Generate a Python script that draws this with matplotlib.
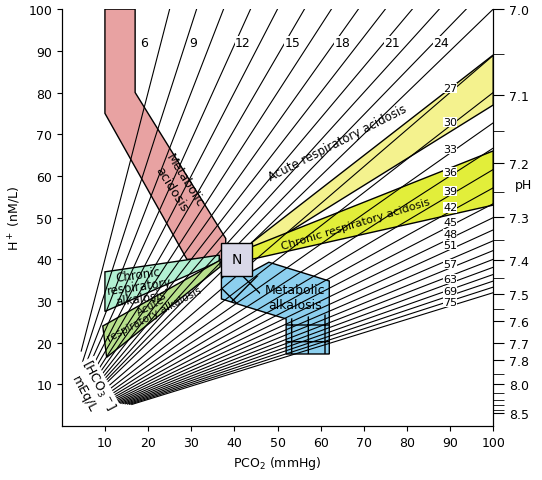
import numpy as np
import matplotlib
matplotlib.use('Agg')
import matplotlib.pyplot as plt
from matplotlib.patches import Polygon

# bicarbonate isobars, mEq/L
hco3_lines = [6, 7.5, 9, 10.5, 12, 13.5, 15, 16.5, 18, 19.5, 21, 22.5, 24, 27,
              30, 33, 36, 39, 42, 45, 48, 51, 54, 57, 60, 63, 66, 69, 72, 75]
top_labels = [6, 9, 12, 15, 18, 21, 24]
right_labels = [27, 30, 33, 36, 39, 42, 45, 48, 51, 57, 63, 69, 75]

ph_major = [7.0, 7.1, 7.2, 7.3, 7.4, 7.5, 7.6, 7.7, 7.8, 8.0, 8.5]
ph_minor = [7.05, 7.15, 7.25, 7.35, 7.45, 7.55, 7.9, 8.1, 8.2, 8.3, 8.4]

regions = {
    'met_acid': [(10, 100), (17, 100), (17, 80), (38, 45), (38, 40), (29, 40), (10, 75)],
    'acute_acid': [(44, 44), (100, 89), (100, 77), (44, 41)],
    'chronic_acid': [(44, 43), (100, 66), (100, 53), (44, 40)],
    'chronic_alk': [(10, 37), (36.5, 41), (36.5, 39.5), (10, 27.5)],
    'acute_alk': [(9.5, 24), (36.7, 39.8), (36.7, 38.2), (10.4, 16.5)],
    'met_alk': [(37, 36.5), (37, 30.5), (52, 25.7), (52, 17.3), (62, 17.3), (62, 34.8), (48, 39.3), (43, 36.5)],
}
colors = {
    'met_acid': '#e8a2a2', 'acute_acid': '#f4f28e', 'chronic_acid': '#e2ee3a',
    'chronic_alk': '#b2f0d2', 'acute_alk': '#b8e08c', 'met_alk': '#8ccfee',
}

fig = plt.figure(figsize=(5.42, 4.81), dpi=100)
ax = fig.add_axes([0.114, 0.112, 0.796, 0.867])
ax.set_xlim(0, 100)
ax.set_ylim(0, 100)

for name, pts in regions.items():
    ax.add_patch(Polygon(pts, closed=True, facecolor=colors[name], edgecolor='black', lw=1, zorder=1))
# hatched parts of metabolic alkalosis
ax.add_patch(Polygon([(37, 36.5), (37, 30.5), (45, 28), (47, 36)], closed=True, fill=False,
                     hatch='x', lw=0, zorder=2))
ax.add_patch(Polygon([(52, 25.7), (52, 17.3), (62, 17.3), (62, 27)], closed=True, fill=False,
                     hatch='+', lw=0, zorder=2))
ax.add_patch(Polygon([(37, 36), (44, 36), (44, 44), (37, 44)], closed=True, facecolor='#d9d8e8',
                     edgecolor='black', lw=1, zorder=4))
ax.text(40.5, 40, 'N', ha='center', va='center', fontsize=10, zorder=5)

for h in hco3_lines:
    p0 = 4.5 + (h - 6) * 0.17
    p1 = min(100, 100 * h / 24)
    p = np.array([p0, p1])
    ax.plot(p, 24 * p / h, color='black', lw=0.8, zorder=3)

for h in top_labels:
    ax.text(92 * h / 24 - 4, 92, str(h), ha='center', va='center', fontsize=9, zorder=6,
            bbox=dict(facecolor='white', edgecolor='none', pad=0.3))
for h in right_labels:
    ax.text(90, 24 * 90 / h + 1.0, str(h), ha='center', va='center', fontsize=8, zorder=6,
            bbox=dict(facecolor='white', edgecolor='none', pad=0.1))

ax.text(27, 58, 'Metabolic\nacidosis', rotation=-58, ha='center', va='center', fontsize=9, zorder=6)
ax.text(64, 68, 'Acute respiratory acidosis', rotation=27, ha='center', va='center', fontsize=8.5, zorder=6)
ax.text(68, 48.5, 'Chronic respiratory acidosis', rotation=17, ha='center', va='center', fontsize=8, zorder=6)
ax.text(18, 33.5, 'Chronic\nrespiratory\nalkalosis', rotation=8, ha='center', va='center', fontsize=8.5,
        linespacing=0.9, zorder=6)
ax.text(21, 28, 'Acute\nrespiratory alkalosis', rotation=28, ha='center', va='center', fontsize=7.5,
        linespacing=0.9, zorder=6)
ax.text(54, 31, 'Metabolic\nalkalosis', ha='center', va='center', fontsize=9, zorder=6)
ax.text(7, 9, '[HCO$_3$$^-$]\nmEq/L', rotation=-62, ha='center', va='center', fontsize=9, zorder=6,
        bbox=dict(facecolor='white', edgecolor='none', pad=0.3))

ax.set_xticks(range(10, 101, 10))
ax.set_yticks(range(10, 101, 10))
ax.tick_params(labelsize=9)
ax.set_xlabel('PCO$_2$ (mmHg)', fontsize=9)
ax.set_ylabel('H$^+$ (nM/L)', fontsize=9)
ax.spines['top'].set_visible(False)

ax2 = ax.twinx()
ax2.set_ylim(0, 100)
ax2.set_yticks([10 ** (9 - v) for v in ph_major])
ax2.set_yticklabels([f'{v:.1f}' for v in ph_major])
ax2.set_yticks([10 ** (9 - v) for v in ph_minor], minor=True)
ax2.tick_params(labelsize=9, length=8)
ax2.tick_params(which='minor', length=8)
ax2.spines['top'].set_visible(False)
fig.text(0.965, 0.615, 'pH', fontsize=9, ha='center', va='center')

fig.savefig('out.png')
